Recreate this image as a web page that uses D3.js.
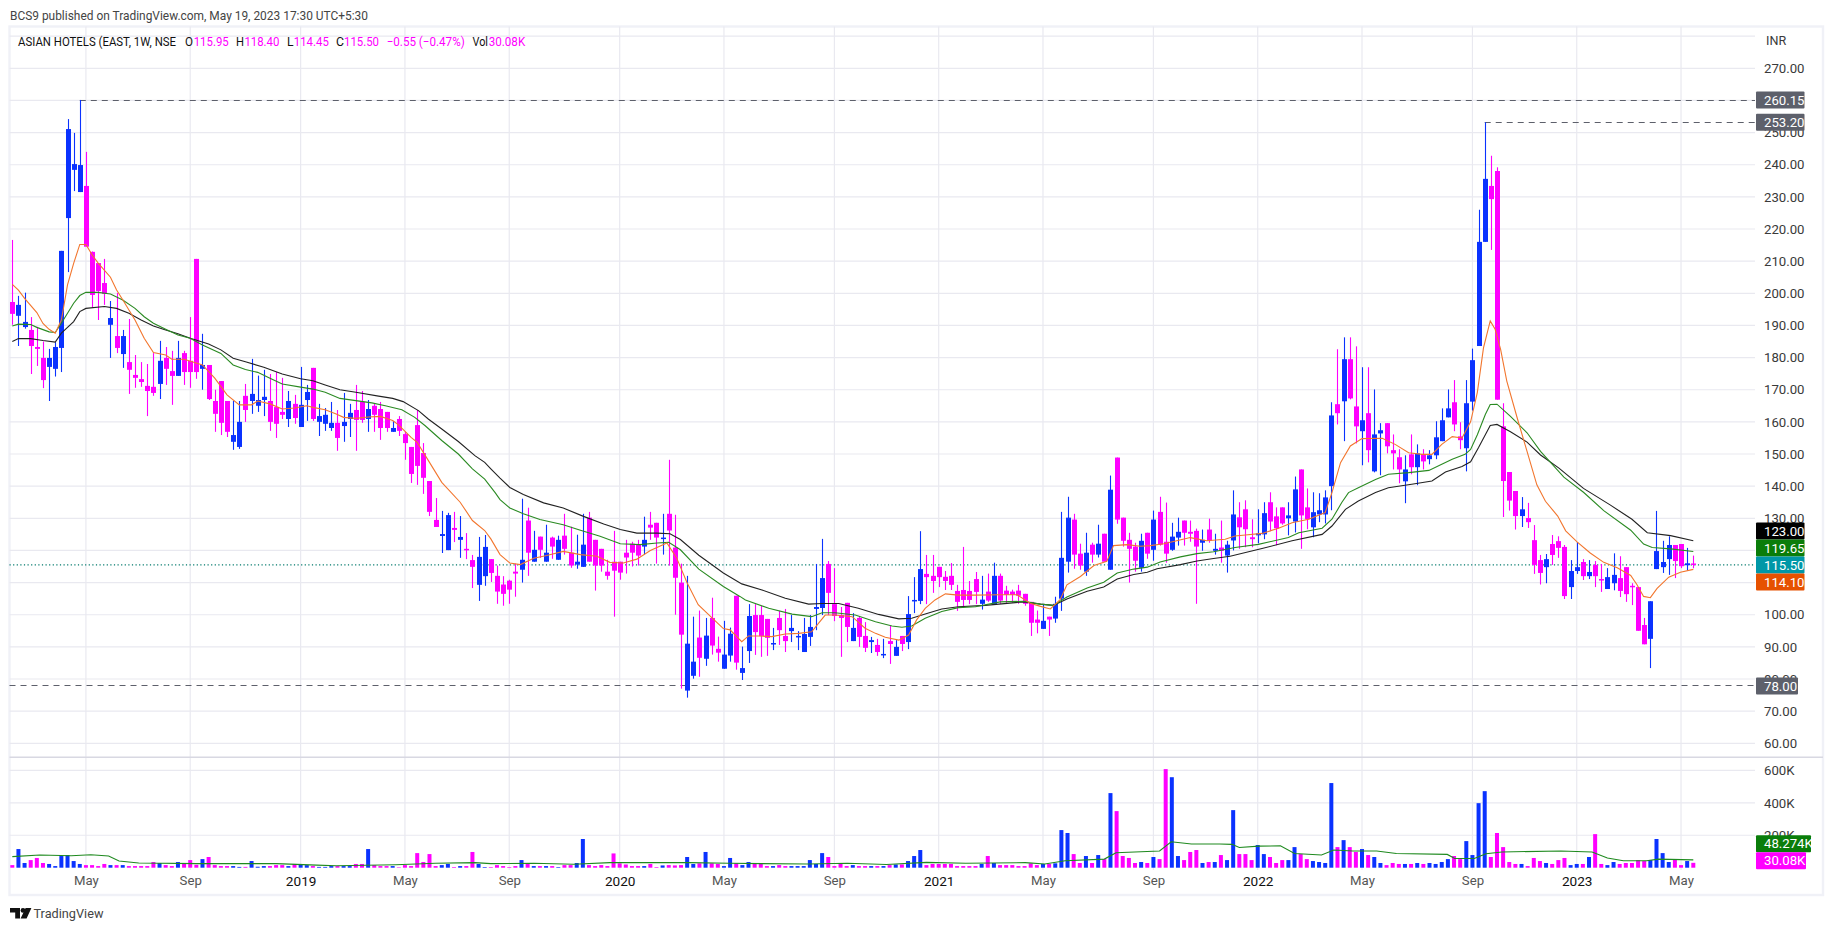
<!DOCTYPE html>
<html>
<head>
<meta charset="utf-8">
<script src="https://cdn.jsdelivr.net/npm/d3@7/dist/d3.min.js"></script>
<style>
html,body{margin:0;padding:0;background:#fff;overflow:hidden}
svg{display:block}
text{font-family:Roboto,"Noto Sans",sans-serif}
</style>
</head>
<body>
<svg id="c" width="1834" height="931"></svg>
<script>
const opens=[197.3,193,189.5,188.6,183.3,179.9,177.1,176.5,183,223.4,
238.4,231.5,233.4,212.9,209.4,203.2,190.2,186.7,181.1,178.6,
174.6,173.3,171.2,170.9,171.8,179.9,175.8,174.3,181.4,179,
210.7,176.5,177.7,166.5,172.7,166.5,153.8,152.2,168.1,166.5,
165,166.8,166.5,164.6,163.1,160.9,165.6,158.4,166.8,176.8,
160,159.4,158.1,159.7,158.7,160.9,163.7,166.2,160.9,165,
164,163.1,156.9,160.9,156.2,152.2,159,150.3,141.6,129.5,
124.5,120.1,127,123.3,120.5,117,109.3,112,117.3,112.1,
109.4,110.6,113.4,114,129.3,116.5,124.3,116.5,124,117.1,
124.6,119.3,115.6,114.9,130.2,123.3,120.5,113.4,116.5,116.5,
119.3,122.1,121.8,121.2,128,128.6,123.7,131.4,120.9,110,
76.4,81,92.9,86.3,99,89.4,83.2,87.3,105.9,81.9,
88.7,99.9,99.9,98.7,90.9,99,93.4,94.9,93.1,88.4,
93.1,101.8,102.1,115.8,103.3,99.9,103.7,91.8,99,93.4,
91.5,90.6,87.5,91.8,87.2,93.4,91.5,104.3,104.3,112.7,
112.1,114.9,111.8,112.1,107.4,107.7,107.4,111.1,103.4,107.2,
103.1,112.1,107.5,107.2,107.5,106.5,104,98.5,95.6,99.4,
98.8,105,116.5,129.6,119,113.4,121.8,118.7,125.2,114,
148.9,130.2,123.3,121.2,114.6,125.5,120.2,132,122.7,120.2,
124,129.3,125.8,126.1,122.4,126.5,119.9,120.9,118.4,123.1,
130.3,132.8,124.1,124.7,125,135,130.6,133.4,130,129,
145.2,133.4,127.2,131.2,131.2,140,165.5,166.4,179.5,164.8,
157.1,162.7,144.6,156.4,159.6,151.2,149,141.5,149.9,145.9,
149.9,148.4,149.6,154,161.4,166.1,155.5,151.8,166.3,183.6,
216,233.4,238.05,158.6,144.4,138.5,130.7,130.1,123.2,117,
114.8,122,122.9,121.1,108.6,113.6,116.4,112,115.5,111.1,
108,109.8,111.4,114.8,109,108.6,96.8,92.5,114.2,114.8,
117.3,121.7,122,115.4,115.95];
const closes=[193.6,196.4,191.1,183.6,182.7,173,179.9,183.3,213.2,251.1,
240.2,239.9,214.5,199.5,200.7,199.8,192.3,183,186.7,176.2,
173.7,172.4,169.6,169,179,176.5,174.3,179.9,175.5,175.5,
175.5,177.7,167.1,162.5,159.7,156.9,155.9,160,163.7,168.7,
166.8,167.8,160,159.4,162.2,166.5,161.2,165.3,169.3,160.9,
161.8,162.2,159.7,155,160,162.8,160.6,160.6,164,162.2,
158.1,158.1,158.1,157.2,153.4,143.8,146.3,142.6,132,127.3,
125.1,131,126.4,124.2,120.2,114.9,118,121.1,113,107.2,
106.5,107.8,112.8,117.1,119.3,120.2,120.2,119.3,121.2,123.3,
120.5,115.3,116.5,121.8,116.5,115.3,115.3,112.1,113.7,113.1,
117.8,119.3,118.4,123.3,127.1,124,124,126.2,111.5,93.8,
91,85.4,86.6,93.5,90.4,88.2,87.6,94.1,85.1,83.4,
99.6,94.6,93.4,92.8,91.2,95.2,91.8,95.9,93.4,94,
96.2,102.4,111.4,106.8,99.6,99,96.2,95.9,93.1,89.7,
92.1,88.4,87.8,90.9,90,90.9,100.2,104.6,114.2,111.7,
110.5,111.7,110.5,109.3,104,104.6,104.6,107.1,104.7,104.4,
112.1,104.4,106.2,106.2,105.9,103.4,97.5,97.5,98.1,98.5,
103.4,117.7,130.2,118.7,115.3,119.3,118.7,122.1,116.5,138.9,
129.6,123,120.5,116.8,123,119,129.6,121.8,119,124.3,
125.8,125.5,125.2,121.2,123.3,123,120.5,119.9,121.8,131.2,
127.2,126.6,123.5,125.3,131.6,129,126.9,128.4,130.9,139,
130.9,129.7,131.9,132.5,136.5,162,162.7,179.5,167.3,158.6,
160.5,151.2,156.1,157.4,152.4,150.2,145.2,145.2,145.9,150.2,
147.7,149.6,155.2,160.5,164.2,159.2,154.3,165.8,179.2,216,
235.6,229.3,166.9,141.6,135.5,130.7,132.8,128.8,115.5,113,
117.3,118.6,120.8,105.8,113.6,114.8,112,113.3,112,110.8,
111.7,112.4,107.4,106.4,108.6,95,90.8,104.2,119.8,116.4,
121.7,116.7,115.1,116,115.5];
const highs=[216.6,199.2,200.2,192.6,189.6,185,182.7,184.8,213.2,254.2,
249.9,260.15,244,213,209.4,210.7,197.6,200.1,188.6,192,
180.8,178.6,178,181.4,185.2,183.3,182.1,185.2,182.1,192.6,
210.7,187.4,177.7,170,172.7,166.5,166.5,166.5,171.8,179.6,
174.4,176.2,174.9,175.5,173.7,169.6,168.4,177.1,171.5,176.8,
165.6,164.3,166.2,163.7,169,165.6,171.5,169.6,166.8,165.6,
166.2,163.1,160.3,161.8,156.9,152.2,163.7,153.4,141.6,136.3,
132.3,131.7,132,130.7,125.4,118.6,124.2,124.8,117.3,115.3,
112,110.9,115.9,136.1,133.3,126.1,124.3,128,124.3,124.6,
131.4,127.4,124.9,131.4,132,123.3,120.5,117.1,126.1,116.5,
123.3,122.7,123.3,130.5,132,128.6,131.4,148.2,131.1,115.9,
112.1,99.4,101.3,99,105.3,93.2,98.1,96,105.9,90.1,
103.3,103.3,102.7,98.7,95.9,101.2,101.8,99.9,94.9,99,
99.9,115.8,123.6,116.7,114.5,102.4,103.7,100.5,99.6,97.7,
93.1,92.5,92.5,96.5,92.1,93.4,105.8,111.7,126,118.6,
118.6,114.9,113.6,116.1,109.3,121.1,110.5,113.3,112.1,112.8,
116.2,112.8,109,107.8,109.3,106.5,104,101.3,103.1,99.4,
105.6,132,136.7,131.4,122.1,125.5,122.4,128,125.2,143.3,
148.9,130.2,125.5,122.4,125.2,125.5,132.4,136.7,134.9,128.6,
130.2,129.3,129.3,126.8,126.5,129.9,125.2,129.3,123,138.7,
135,135.6,129.7,132.8,135,138.1,133.4,133.4,135,143,
145.2,139.3,138.1,137.8,138.7,166.1,182.6,186.3,186.3,183.5,
177,177,170.1,159.6,159.6,156.1,151.5,149.6,156.1,153,
151.5,151.2,160.2,164.2,170.1,173,159.9,173,182.8,226,
253.2,242.8,239.2,165.8,144.4,138.5,136.6,134.8,127.9,118.6,
118.9,124.8,124.4,121.7,117,122.6,117.3,117,116.7,115.8,
114.5,119.1,118.2,114.8,109.8,108.6,99,104.2,132.3,123,
124.4,121.7,122,120.8,118.4];
const lows=[190.2,183.6,189,174.9,177.4,170.5,166.5,174.1,175.5,206.6,
231.8,231.5,214.5,195.5,191.7,196.4,179.9,181.4,176.8,168.7,
170.6,170.9,161.8,168.1,167.1,171.5,165.3,174.3,171.5,170.6,
173.4,170,166.8,156.9,155.9,155.3,151.3,151.6,160,162.5,
163.1,161.8,157.2,155,160.9,158.4,159.4,158.4,160.3,160.3,
155.6,157.2,157.2,151,153.8,155.3,151,159.7,156.9,156.9,
154.4,156.9,156.9,155.6,148.2,141,140.4,137.6,130.7,127.3,
119.2,120.1,122.6,117.7,117.3,108.3,104.3,109,110.2,103.4,
102.8,103.4,105.6,110,112.1,116.5,117.7,116.5,117.4,117.1,
118.7,114.6,114.3,114.9,116.5,107.5,113.4,110.9,99.4,110.9,
112.8,115,115.3,118.7,123.3,115.9,118.7,115.3,100,77,
74.2,80.1,80.7,84.1,87.6,85.4,83.2,85.4,82.9,79.7,
85,87.5,86.9,87.2,89,90.6,88.4,91.5,89,88.4,
90.3,95.2,99.9,99.9,98,86.9,91.5,91.8,90,88.4,
88.1,87.2,86.5,84.7,87.2,88.7,89.3,100.5,103.3,103.3,
106.8,108.6,107.7,107.7,101.2,102.1,103.3,103.3,101.6,104,
103.1,103.4,103.4,103.7,103.4,102.8,93.4,94.2,95.6,93.4,
97.5,101.2,113.1,114.3,114,112.1,116.2,117.8,116.5,114,
128.3,121.2,110,113.4,113.4,117.4,116.8,121.5,116.2,119.9,
121.5,121.5,122.7,103.4,119.9,122.4,118.7,116.2,113.1,120,
120.5,121,121,122.2,123.5,126,121.6,128,124.7,125.6,
120.5,126.6,124.1,128.8,128.4,132.5,159.2,154,167,153.3,
146.5,147.4,144.3,143.4,150.2,145.2,140.9,134.7,143.7,140.3,
145.2,146.8,148.4,154,161.4,157.1,151.5,144.6,163.5,183.6,
216,213.5,166.9,130.4,132.4,126.5,127.3,127,112.7,109.4,
109.8,115.5,117.7,104.9,104.9,112.7,110.8,111.1,108.6,107.1,
108,107.6,105.5,104,103,95,90.8,83.4,114.2,113,
112.4,111.4,114.5,113.8,114.45];
const volumes=[16,115,29,47,60,29,23,10,72,78,
41,23,16,16,10,23,16,16,16,10,
10,10,10,35,29,16,10,35,23,47,
18,53,66,16,10,10,10,5,5,41,
6,10,10,16,16,10,23,23,16,10,
5,5,10,10,10,10,23,23,115,16,
10,10,10,3,16,10,90,35,84,10,
16,23,4,10,10,97,23,4,4,16,
10,4,10,47,23,10,10,10,10,4,
16,16,29,177,16,10,16,10,88,27,
20,10,10,10,23,4,14,16,14,16,
66,23,27,97,27,23,10,60,27,16,
35,23,23,10,10,16,10,10,10,10,
47,23,90,66,10,23,10,16,10,10,
10,10,10,16,20,20,41,72,109,16,
23,23,23,23,10,10,10,10,23,72,
29,16,16,16,10,10,27,16,23,23,
27,232,214,84,29,72,29,78,53,460,
349,72,60,29,35,29,66,53,608,558,
72,47,97,109,29,35,35,78,47,355,
84,84,47,140,84,66,29,47,47,127,
84,53,41,35,29,522,127,170,127,97,
115,78,66,29,16,29,23,23,23,29,
23,29,23,35,53,72,53,164,78,398,
472,66,214,127,35,23,23,10,60,41,
29,23,47,60,16,23,23,66,207,23,
16,35,23,29,29,47,41,47,177,90,
35,53,16,41,30.08];
const emaFast=[[0,202.8],[1,201],[2,198.4],[4,194],[5,190.6],[6,188.8],[7,187.6],[8,191.7],[9,202.6],[10,209.3],[11,215.2],[12,215.2],[13,212],[14,209.4],[16,205],[17,201],[18,198],[20,191.7],[21.5,186],[23,181.6],[25,180.8],[26,179.5],[28,179.5],[31,177.7],[33,173.6],[35,168.4],[37,165.3],[39,165.3],[40,166.5],[42,165.6],[44,164],[46,164.3],[48,165],[49,164.5],[51,163.8],[52.7,162.5],[54,161.4],[56,161.1],[58,161.5],[60,161.7],[62,160.4],[63,159],[65,155.2],[66,153.6],[68,147.4],[70,141.2],[73,135],[75,129.3],[77,126.2],[78,123.6],[79.5,118.7],[81.1,116.1],[82.8,115.6],[85,117.6],[87.1,118.4],[89.8,119.7],[92.6,118.7],[95.3,118.2],[97.4,116.3],[99.6,116.1],[101.8,117.3],[104,120],[106.7,122.3],[108.3,117.6],[110,109.9],[111.8,103.1],[113.8,99.5],[115.9,95.7],[117,95.3],[118.9,91.6],[120,93.4],[121.6,93.4],[123.8,93.2],[126,94],[128.2,94.2],[130.3,94.7],[131.4,97.3],[132.5,99.9],[134.1,99.9],[136.9,99.4],[139,95.8],[140.7,94.2],[142.3,93],[144.5,92.1],[146.1,93.7],[147.4,98.4],[148.8,102],[150.4,104.6],[152.1,106.5],[154.2,106.1],[157,106.1],[161,106.2],[163.8,106.2],[165.9,103.6],[167.6,102.6],[169.2,101.8],[170.8,104.7],[171.9,109.3],[174.1,111.9],[176.3,115.3],[178.4,116.6],[179.5,121.5],[181.7,121.8],[183.9,121.3],[185.5,121.5],[187.7,122.1],[189.8,123],[192,124],[194.7,123],[197.7,123.5],[199.3,124.5],[201,124.8],[203.7,125.3],[206.4,126.9],[208.6,128.6],[211.3,129.7],[214,131.8],[215.1,138],[216.5,147.3],[218.1,152.5],[220,154.8],[223.3,154.9],[225.4,153],[227.6,150.4],[229.8,149.9],[231.4,149.9],[233,153],[234.7,155.4],[236.3,155],[237.7,160],[238.8,169.2],[239.8,183],[240.9,191.4],[241.7,188.8],[242.6,182.5],[243.6,172.7],[245.3,161.2],[246.9,150.8],[248.5,140.4],[249.9,135.3],[251.9,130.7],[253.2,126.1],[255.1,122.6],[257.2,119.2],[259.4,116.3],[261.6,114.6],[263.8,112.2],[264.8,109.4],[265.9,105.7],[267,105.3],[268.1,108.2],[270,111.7],[271.9,113.2],[274,114.1]];
const emaMid=[[0,189.8],[1,190.4],[3,190.3],[4,189.4],[6,188],[7,187.8],[8,190.7],[10,196.9],[11,199.3],[12,200.3],[14,200.3],[16,199.8],[18,197.9],[20,195.3],[21.5,192.7],[23,190.7],[25,188.8],[27,187],[29,186],[31,183.9],[34,181.3],[36,177.7],[38,176.3],[40,175.4],[42,173.6],[44,171.8],[47,170.8],[49,170.2],[51,169.2],[53.4,167.3],[56,166.6],[58.6,165.9],[60.8,165],[63.5,163.8],[65.6,161.4],[67.3,158.8],[70,154.2],[72.7,150],[75,145.4],[77,142.2],[78.7,138],[79.5,135.8],[81.1,133.2],[83.3,131.4],[86,129.6],[89.8,128],[92.6,126.3],[95.8,124.4],[99.1,122.1],[102.3,121.8],[105.1,122.3],[107,122.5],[108.9,120.2],[111.9,114.2],[115.9,108.8],[118.6,105.7],[119.5,104.6],[123.3,102],[127.1,100.2],[130.3,99.4],[132,100.6],[134.1,100.6],[137.4,99.9],[140.7,97.8],[143.4,96.5],[145,96.1],[146.6,96.5],[148.8,98.9],[151.5,101],[154.2,102.2],[157,102.5],[161,104],[164.8,104.2],[167.6,103.3],[169.7,102.9],[171.9,105.5],[175.2,108.3],[177.9,110.1],[180.1,113],[182.8,114.2],[185,114.8],[187.1,116.4],[190.4,118],[193.1,119],[195.8,119.6],[199.3,120.9],[203.1,121.9],[208,124],[209.7,125.5],[213.5,126.9],[215.1,129.7],[216.7,134.9],[217.8,138],[219.4,139.5],[222.2,142.1],[224.3,143.7],[227.6,144.2],[230.9,144.9],[233,146.8],[234.7,148.4],[236.8,149.9],[237.7,151.4],[238.8,156],[240.1,162.3],[240.9,165.4],[242,165.5],[244.2,161.7],[246.9,156.6],[249.1,150.8],[252.9,142.8],[256.1,138.1],[259.4,132.4],[263.8,126.3],[265.9,122],[267.3,120.9],[270.3,120.5],[274,119.65]];
const emaSlow=[[0,185],[1,185.9],[3,185.9],[5,185.3],[7,184.8],[8,187.6],[10,191.2],[11,194.3],[12,195.3],[15,195.9],[17,195.3],[19,193.8],[21,191.7],[23,189.8],[25,188.6],[27,187.4],[29,186],[32,184.2],[34,182.4],[36,179.8],[38,178.7],[41,177],[44,174.9],[47,173.4],[49,172.8],[51,171.5],[53.4,170],[56,169.2],[59.7,168],[62,167.3],[63.7,166.3],[66.2,163.5],[67.8,160.9],[70,157.8],[72.7,153.9],[75.4,149.5],[77,147.4],[78,145.4],[79.5,142.5],[81.1,139.6],[83.3,137.4],[86.6,134.8],[89.8,133.2],[93.1,130.6],[96.4,128.2],[99.1,126.5],[101.8,125.4],[105.1,125.4],[107.2,125.2],[108.9,123.4],[111.9,118.5],[115.9,113],[118.9,109.6],[122.2,107.7],[126,105.1],[129.8,103.3],[132,103.5],[134.7,103.5],[137.9,102],[141.2,100.1],[144.5,98.7],[146.6,98.9],[148.8,100.2],[151.5,101.8],[154.2,102.5],[158.6,102.9],[164.8,104],[167.6,103.3],[169.7,102.9],[171.9,104.9],[175.2,107.3],[177.9,108.6],[180.1,111.1],[182.8,112.5],[185,113.2],[186.6,114.3],[190.4,115.6],[193.1,116.7],[195.8,117.5],[198.5,118.2],[203.7,120.6],[208.6,123],[213.5,125],[215.1,127.6],[217.3,132.8],[219.4,135.4],[222.2,138],[224.3,139.5],[228.1,140.6],[231.4,141.6],[233.6,144.4],[236.3,146.1],[237.7,147.6],[239,152],[240.9,158.9],[242,159.2],[244.2,156.9],[246.9,153.7],[249.1,149.7],[252.1,145.6],[256.1,139.3],[260.5,134.1],[264,129.7],[266.5,125.5],[270.3,124.6],[274,123]];
const volMa=[[0,68],[4.5,78],[9.6,74],[12.8,80],[15.7,72],[17.4,41],[20.6,29],[30.3,25],[43,25],[49.6,16],[52.8,12],[62.5,18],[69,27],[75.4,31],[78,25],[85,27],[91.5,21],[97.4,31],[110.3,31],[116.8,27],[129.7,23],[136.1,27],[142.5,20],[149,33],[155.4,27],[165.1,31],[168.3,23],[171.6,43],[178,53],[179.9,92],[187,103],[188.9,160],[192.2,146],[196.8,146],[198.8,144],[200,125],[203.2,133],[206.7,135],[209,88],[213.4,78],[215.4,109],[218.5,103],[222.4,103],[225.6,88],[233.9,82],[235.1,57],[238.3,57],[240.2,86],[242.8,97],[252.4,103],[257.5,97],[260,60],[262.6,43],[266.4,43],[268.3,53],[274,48.274]];
const timeTickIdx=[12,29,47,64,81,99,116,134,151,168,186,203,220,238,255,272];
const timeTickLabels=["May","Sep","2019","May","Sep","2020","May","Sep","2021","May","Sep","2022","May","Sep","2023","May"];
const priceTicks=[60,70,80,90,100,110,120,130,140,150,160,170,180,190,200,210,220,230,240,250,260,270];
const volTicks=[200,400,600];
const publishedText="BCS9 published on TradingView.com, May 19, 2023 17:30 UTC+5:30";
const symbolText="ASIAN HOTELS (EAST, 1W, NSE";

const UP="#0a32ff",DOWN="#ff00ff",GRID="#e9e9f0",AXT="#3a3a3a";
const L=9.5,R=1755,FR=1823,T=26.5,B=895,SEP=757.3;
const svg=d3.select("#c");
const x=d3.scaleLinear().domain([0,274]).range([12.3,1693.3]);
const y=d3.scaleLinear().domain([60,270]).range([743.3,68.3]);
const yv=d3.scaleLinear().domain([0,600]).range([867.7,770.4]);

svg.append("text").attr("x",10).attr("y",19.5).attr("font-size",12.8).attr("fill","#444").attr("textLength",358).attr("lengthAdjust","spacingAndGlyphs").text(publishedText);
svg.append("rect").attr("x",L).attr("y",T).attr("width",FR-L).attr("height",B-T).attr("fill","#fff").attr("stroke","#f0f1f7").attr("stroke-width",2.4);

const grid=svg.append("g").attr("stroke",GRID).attr("stroke-width",1.2);
grid.selectAll(".v").data(timeTickIdx).join("line").attr("x1",d=>x(d)).attr("x2",d=>x(d)).attr("y1",T).attr("y2",870);
grid.selectAll(".h").data(priceTicks.concat([280])).join("line").attr("x1",L).attr("x2",R).attr("y1",d=>y(d)).attr("y2",d=>y(d));
grid.selectAll(".hv").data(volTicks).join("line").attr("x1",L).attr("x2",R).attr("y1",d=>yv(d)).attr("y2",d=>yv(d));
svg.append("line").attr("x1",L).attr("x2",FR).attr("y1",SEP).attr("y2",SEP).attr("stroke","#d8d8e2").attr("stroke-width",1.4);

const styleAxis=g=>{g.select(".domain").remove();g.selectAll("text").attr("font-size",13.2).attr("fill",AXT).attr("font-family","Roboto");};
svg.append("g").attr("transform",`translate(${R},0)`).call(d3.axisRight(y).tickValues(priceTicks).tickSize(0).tickPadding(9).tickFormat(d3.format(".2f"))).call(styleAxis);
svg.append("g").attr("transform",`translate(${R},0)`).call(d3.axisRight(yv).tickValues(volTicks).tickSize(0).tickPadding(9).tickFormat(d=>d+"K")).call(styleAxis);
const timeAxis=svg.append("g").attr("transform","translate(0,875)").call(d3.axisBottom(x).tickValues(timeTickIdx).tickSize(0).tickPadding(1).tickFormat((d,i)=>timeTickLabels[i])).call(styleAxis);
timeAxis.selectAll("text").attr("fill",(d,i)=>/^\d/.test(timeTickLabels[i])?"#111":"#555").attr("font-size",(d,i)=>/^\d/.test(timeTickLabels[i])?13.6:13.2);
svg.append("text").attr("x",1766).attr("y",45).attr("font-size",12.6).attr("fill",AXT).text("INR");

const idx=d3.range(opens.length);
const color=i=>closes[i]>=opens[i]?UP:DOWN;

// last price and high/low lines
svg.append("line").attr("x1",L).attr("x2",R).attr("y1",y(115.5)).attr("y2",y(115.5)).attr("stroke","#00796b").attr("stroke-width",1.2).attr("stroke-dasharray","1.2 2.4");
const dash=(i0,v)=>svg.append("line").attr("x1",i0).attr("x2",R).attr("y1",Math.round(y(v))+.5).attr("y2",Math.round(y(v))+.5).attr("stroke","#5d606b").attr("stroke-width",1).attr("stroke-dasharray","6 5");
dash(x(11),260.15);dash(x(240),253.2);dash(L,78);

// volume
svg.append("g").selectAll("rect").data(idx).join("rect").attr("x",i=>x(i)-2).attr("width",4).attr("y",i=>yv(volumes[i])).attr("height",i=>yv(0)-yv(volumes[i])).attr("fill",color);
const line=(sx,sy)=>d3.line().x(d=>sx(d[0])).y(d=>sy(d[1]));
svg.append("path").attr("d",line(x,yv)(volMa)).attr("fill","none").attr("stroke","#1f8a1f").attr("stroke-width",1.1);

// candles
svg.append("g").selectAll("line").data(idx).join("line").attr("x1",i=>Math.round(x(i))+.5).attr("x2",i=>Math.round(x(i))+.5).attr("y1",i=>y(highs[i])).attr("y2",i=>y(lows[i])).attr("stroke",color).attr("stroke-width",1.1);
svg.append("g").selectAll("rect").data(idx).join("rect").attr("x",i=>Math.round(x(i))-2).attr("width",5).attr("y",i=>y(Math.max(opens[i],closes[i]))).attr("height",i=>Math.max(1.5,Math.abs(y(opens[i])-y(closes[i])))).attr("fill",color);

// moving averages
[[emaSlow,"#222222"],[emaMid,"#2a8a22"],[emaFast,"#f2762e"]].forEach(([d,c])=>{
  svg.append("path").attr("d",line(x,y)(d)).attr("fill","none").attr("stroke",c).attr("stroke-width",1.1);
});

// price tags
const tag=(txt,cy,w,bg)=>{
  svg.append("rect").attr("x",R+1).attr("y",cy-8.5).attr("width",w).attr("height",17).attr("rx",1).attr("fill",bg);
  svg.append("text").attr("x",R+9).attr("y",cy+4.7).attr("font-size",13.2).attr("fill","#fff").text(txt);
};
tag("260.15",y(260.15),48.5,"#5d606b");
tag("253.20",y(253.2),48.5,"#5d606b");
tag("78.00",y(78)+.5,42,"#5d606b");
tag("123.00",y(115.5)-34,48.5,"#000000");
tag("119.65",y(115.5)-17,48.5,"#0a7d0a");
tag("115.50",y(115.5),48.5,"#0097a7");
tag("114.10",y(115.5)+17,48.5,"#e65100");
tag("48.274K",843.7,55,"#0a7d0a");
tag("30.08K",860.7,50,"#ff00ff");

// legend: [colour, left, text, width]
const leg=[["#111",18,symbolText,158],["#111",185,"O",8],[DOWN,193.7,"115.95",35],["#111",236,"H",8],[DOWN,244.4,"118.40",35],["#111",287,"L",6.5],[DOWN,293.8,"114.45",35],["#111",336,"C",8],[DOWN,344,"115.50",35],[DOWN,386.7,"−0.55 (−0.47%)",78],["#111",472.5,"Vol",15.5],[DOWN,488.7,"30.08K",36.5]];
svg.append("g").selectAll("text").data(leg).join("text").attr("x",d=>d[1]).attr("y",46).attr("font-size",12.8).attr("fill",d=>d[0]).attr("textLength",d=>d[3]).attr("lengthAdjust","spacingAndGlyphs").text(d=>d[2]);

// footer
svg.append("path").attr("d","M10 908H20V918.5H15.2V912.5H10ZM31.4 908L26.6 918.5H20.6L25.6 908Z").attr("fill","#111");
svg.append("circle").attr("cx",23).attr("cy",910.4).attr("r",2.4).attr("fill","#111");
svg.append("text").attr("x",33.5).attr("y",918).attr("font-size",13.4).attr("fill","#444").attr("textLength",70).attr("lengthAdjust","spacingAndGlyphs").text("TradingView");
</script>
</body>
</html>
